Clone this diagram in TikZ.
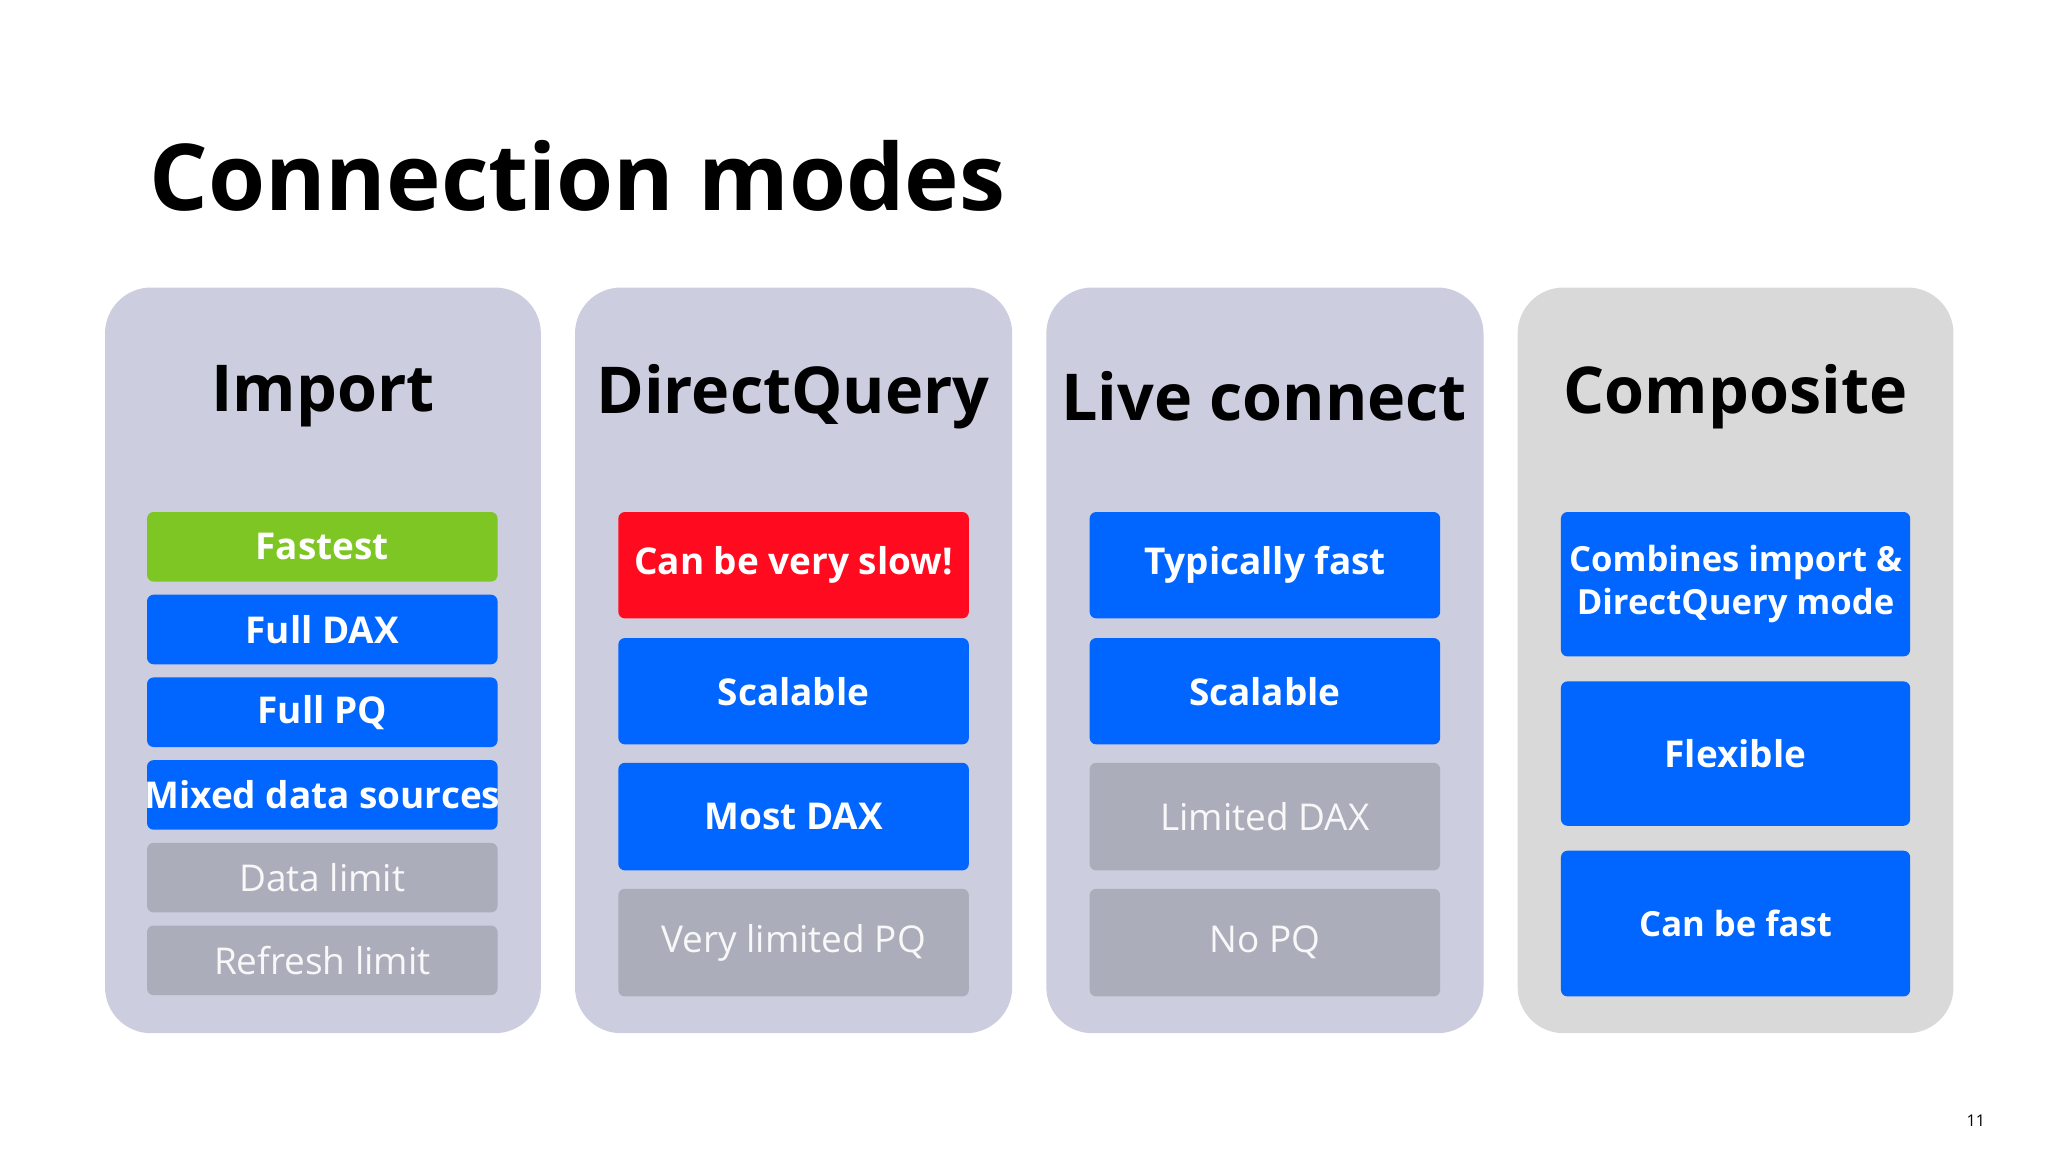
\documentclass[tikz,border=0pt]{standalone}
\usepackage{fontspec}
\setmainfont{Open Sans}
\begin{document}
\begin{tikzpicture}[x=0.01cm,y=-0.01cm,
 col/.style={fill=#1,rounded corners=0.35cm},
 bx/.style={fill=#1,rounded corners=0.05cm,text=white,font=\fontsize{8}{10}\selectfont\bfseries,align=center},
 gx/.style={fill=boxgray,rounded corners=0.05cm,text=white!92!boxgray,font=\fontsize{8}{10}\selectfont,align=center},
 hd/.style={font=\fontsize{14}{16}\selectfont\bfseries}]
\definecolor{colA}{HTML}{CCCDDF}
\definecolor{colB}{HTML}{D9D9D9}
\definecolor{bblue}{HTML}{0066FF}
\definecolor{bgreen}{HTML}{7DC623}
\definecolor{bred}{HTML}{FF0A1E}
\definecolor{boxgray}{HTML}{ACADBA}
\useasboundingbox (0,0) rectangle (1560,878);
\node[anchor=base west,font=\fontsize{20}{24}\selectfont\bfseries,inner sep=0] (title) at (113,160) {Connection modes};
\fill[col=colA] (80,219) rectangle (412,787);
\fill[col=colA] (438,219) rectangle (771,787);
\fill[col=colA] (797,219) rectangle (1130,787);
\fill[col=colB] (1156,219) rectangle (1488,787);
\node[hd] (h1) at (246,302) {Import};
\node[hd] (h2) at (604,302) {DirectQuery};
\node[hd] (h3) at (963,302) {Live connect};
\node[hd] (h4) at (1322,302) {Composite};
% column 1
\path[bx=bgreen] (112,390) rectangle node (a1) {Fastest} (379,443);
\path[bx=bblue] (112,453) rectangle node (a2) {Full DAX} (379,506);
\path[bx=bblue] (112,516) rectangle node (a3) {Full PQ} (379,569);
\path[bx=bblue] (112,579) rectangle node (a4) {Mixed data sources} (379,632);
\path[gx] (112,642) rectangle node (a5) {Data limit} (379,695);
\path[gx] (112,705) rectangle node (a6) {Refresh limit} (379,758);
% column 2
\path[bx=bred] (471,390) rectangle node (b1) {Can be very slow!} (738,471);
\path[bx=bblue] (471,486) rectangle node (b2) {Scalable} (738,567);
\path[bx=bblue] (471,581) rectangle node (b3) {Most DAX} (738,663);
\path[gx] (471,677) rectangle node (b4) {Very limited PQ} (738,759);
% column 3
\path[bx=bblue] (830,390) rectangle node (c1) {Typically fast} (1097,471);
\path[bx=bblue] (830,486) rectangle node (c2) {Scalable} (1097,567);
\path[gx] (830,581) rectangle node (c3) {Limited DAX} (1097,663);
\path[gx] (830,677) rectangle node (c4) {No PQ} (1097,759);
% column 4
\path[bx=bblue] (1189,390) rectangle node[font=\fontsize{7.5}{9.2}\selectfont\bfseries] (d1) {Combines import \&\\DirectQuery mode} (1455,500);
\path[bx=bblue] (1189,519) rectangle node (d2) {Flexible} (1455,629);
\path[bx=bblue] (1189,648) rectangle node[font=\fontsize{7.5}{9}\selectfont\bfseries] (d3) {Can be fast} (1455,759);
\node[font=\fontsize{3.5}{4}\selectfont] (pg) at (1505,854) {11};
\end{tikzpicture}
\end{document}
